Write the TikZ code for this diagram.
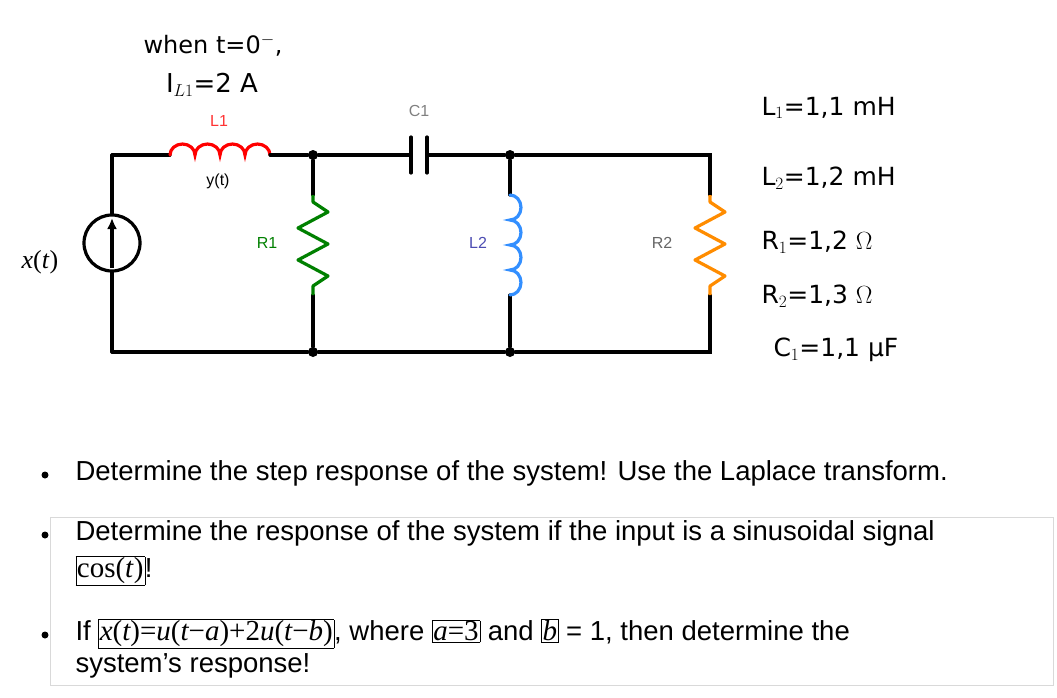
\documentclass[tikz,border=0pt]{standalone}
\usepackage{fontspec}
\setmainfont{Liberation Sans}
\newfontfamily\serifx{Liberation Serif}
\newfontfamily\hand{DejaVu Sans}
\usetikzlibrary{arrows.meta}
\begin{document}
\begin{tikzpicture}[x=1pt,y=-1pt,
 wire/.style={line width=3.2pt,line cap=round},
 dot/.style={circle,fill=black,inner sep=0pt,minimum size=10pt},
 lab/.style={font=\fontsize{16}{16}\selectfont},
 hw/.style={font=\hand\fontsize{25}{28}\selectfont,anchor=west},
 body/.style={font=\fontsize{27.5}{30}\selectfont,anchor=west},
 sm/.style={font=\serifx\fontsize{29}{30}\selectfont}]
\useasboundingbox (0,0) rectangle (1057,698);
\coordinate (tl) at (112,155); \coordinate (bl) at (112,352);
\node[dot] (n1) at (313,155) {}; \node[dot] (n2) at (313,352) {};
\node[dot] (n3) at (510,155) {}; \node[dot] (n4) at (510,352) {};
\coordinate (tr) at (710,155); \coordinate (br) at (710,352);
\node[circle,draw,line width=3.2pt,minimum size=56pt,inner sep=0pt] (src) at (112,243) {};
\draw[wire] (bl) -- (src.south); \draw[wire] (src.north) -- (tl);
\draw[line width=3.2pt,-{Latex[length=11pt,width=10pt]}] (112,268) -- (112,218);
\draw[wire] (tl) -- (170,155);
\draw[wire,red] (170,155) \foreach \i in {0,...,3}{ arc(180:360:12.5 and 11)};
\draw[wire] (270,155) -- (n1) -- (411,155);
\draw[wire] (411,137) -- (411,173); \draw[wire] (427,137) -- (427,173);
\draw[wire] (427,155) -- (n3) -- (tr) -- (710,195);
\draw[wire] (bl) -- (n2) -- (n4) -- (br) -- (710,295);
% R1
\draw[wire] (n1) -- (313,195); \draw[wire] (313,295) -- (n2);
\draw[line width=3.2pt,green!50!black,line join=round] (313,195) -- (313,202) -- (328,212) -- (298,228) -- (328,244) -- (298,260) -- (328,276) -- (313,286) -- (313,295);
% L2
\draw[wire] (n3) -- (510,195); \draw[wire] (510,295) -- (n4);
\draw[wire,blue!55!cyan!80!white] (510,195) \foreach \i in {0,...,3}{ arc(-90:90:11 and 12.5)};
% R2
\draw[line width=3.2pt,orange!90!yellow,line join=round] (710,195) -- (710,202) -- (725,212) -- (695,228) -- (725,244) -- (695,260) -- (725,276) -- (710,286) -- (710,295);
% labels
\node[lab,red!80] (lL1) at (219,121) {L1};
\node[lab] (ly) at (218,181) {y(t)};
\node[lab,green!50!black] (lR1) at (267,243) {R1};
\node[lab,gray] (lC1) at (419,111) {C1};
\node[lab,blue!40!gray] (lL2) at (478,243) {L2};
\node[lab,gray!80!black] (lR2) at (662,243) {R2};
\node[font=\serifx\fontsize{26}{26}\selectfont] (lx) at (40,262) {\textit{x}(\textit{t})};
\node[font=\hand\fontsize{24}{26}\selectfont] (w1) at (213,45) {when t=0$^-$,};
\node[font=\hand\fontsize{26}{28}\selectfont] (w2) at (212,85) {I$_{L1}$=2 A};
\node[hw] (v1) at (758,108) {L$_1$=1,1 mH};
\node[hw] (v2) at (758,178) {L$_2$=1,2 mH};
\node[hw] (v3) at (758,242) {R$_1$=1,2 $\Omega$};
\node[hw] (v4) at (758,296) {R$_2$=1,3 $\Omega$};
\node[hw] (v5) at (770,350) {C$_1$=1,1 μF};
% text
\draw[gray!30,line width=1pt] (50,517) rectangle (1053,685);
\foreach \y in {475,535,635} \fill (45,\y) circle (3.5pt);
\node[body] (t1) at (72,473) {Determine the step response of the system! Use the Laplace transform.};
\node[body] (t2) at (72,533) {Determine the response of the system if the input is a sinusoidal signal};
\node[body] (t3) at (72,571) {\setlength\fboxsep{1pt}{\serifx\fontsize{29}{30}\selectfont\fbox{\rule{0pt}{20pt}cos(\textit{t})}}!};
\node[body] (t4) at (72,634) {If \setlength\fboxsep{1pt}{\serifx\fontsize{29}{30}\selectfont\fbox{\itshape x\upshape(\itshape t\upshape)=\itshape u\upshape(\itshape t\upshape−\itshape a\upshape)+2\itshape u\upshape(\itshape t\upshape−\itshape b\upshape)}}, where {\serifx\fontsize{29}{30}\selectfont\fbox{\itshape a\upshape=3}} and {\serifx\fontsize{29}{30}\selectfont\fbox{\itshape b}} = 1, then determine the};
\node[body] (t5) at (72,666) {system's response!};
\end{tikzpicture}
\end{document}
